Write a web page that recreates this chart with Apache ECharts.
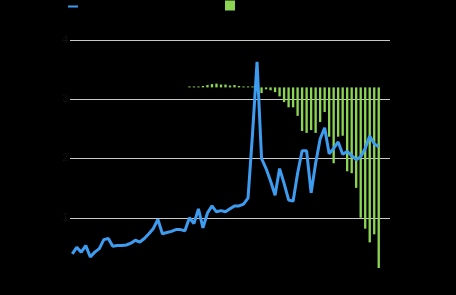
<!DOCTYPE html>
<html>
<head>
<meta charset="utf-8">
<script src="https://cdn.jsdelivr.net/npm/echarts@6/dist/echarts.min.js"></script>
<style>html,body{margin:0;padding:0;background:#000;}#c{width:456px;height:295px;}</style>
</head>
<body>
<div id="c"></div>
<script>
var categories = [];
for (var y = 1950; y <= 2020; y++) categories.push(String(y));

var lineName = 'Level';
var barName = 'Change';

var lineValues = [0.39,0.50,0.42,0.53,0.34,0.42,0.48,0.63,0.65,0.52,
  0.53,0.53,0.54,0.57,0.62,0.59,0.65,0.73,0.82,0.97,
  0.73,0.75,0.77,0.80,0.80,0.78,1.00,0.90,1.15,0.83,
  1.08,1.20,1.10,1.12,1.10,1.15,1.20,1.20,1.23,1.33,
  2.42,3.63,2.00,1.83,1.62,1.38,1.83,1.58,1.30,1.28,
  1.75,2.13,2.13,1.42,1.92,2.33,2.52,2.08,2.17,2.28,
  2.07,2.12,2.05,1.98,2.03,2.17,2.38,2.25,2.20,null,null];

var barValues = [null,null,null,null,null,null,null,null,null,null,
  null,null,null,null,null,null,null,null,null,null,
  null,null,null,null,null,null,0.1,0.1,0.1,0.15,
  0.25,0.35,0.4,0.3,0.3,0.2,0.25,0.15,0.1,0.1,
  0.1,-0.4,-0.6,-0.2,-0.3,-0.5,-0.95,-1.55,-2.1,-2.1,
  -3.0,-4.6,-4.8,-4.5,-4.8,-3.65,-2.6,-5.2,-8.0,-5.2,
  -5.1,-8.85,-9.05,-10.6,-13.75,-14.9,-16.35,-15.5,-19.05,null,null];

var leftTicks = {min: 0, max: 4, interval: 1};
var rightTicks = {min: -20, max: 5, interval: 5};

var chart = echarts.init(document.getElementById('c'), null, {renderer: 'canvas'});
chart.setOption({
  backgroundColor: '#000',
  animation: false,
  legend: [
    {left: 68, top: 1, itemWidth: 10, itemHeight: 2, itemGap: 5, padding: 0, icon: 'rect',
     data: [lineName], textStyle: {color: '#000', fontSize: 11}},
    {left: 225, top: 0, itemWidth: 10, itemHeight: 10, itemGap: 5, padding: 0, icon: 'rect',
     data: [barName], textStyle: {color: '#000', fontSize: 11}}
  ],
  grid: {left: 70, right: 66, top: 40, bottom: 15},
  xAxis: {
    type: 'category', data: categories, boundaryGap: true,
    axisLine: {show: true, lineStyle: {color: '#000', width: 2}},
    axisTick: {show: false},
    axisLabel: {color: '#000', fontSize: 10}
  },
  yAxis: [
    {type: 'value', min: leftTicks.min, max: leftTicks.max, interval: leftTicks.interval,
     axisLine: {show: false}, axisTick: {show: false},
     axisLabel: {color: '#111111', fontSize: 10, margin: 2, showMinLabel: false},
     splitLine: {show: true, lineStyle: {color: '#c8c8c8', width: 1}}},
    {type: 'value', min: rightTicks.min, max: rightTicks.max, interval: rightTicks.interval,
     axisLine: {show: false}, axisTick: {show: false},
     axisLabel: {color: '#000', fontSize: 10},
     splitLine: {show: false}}
  ],
  series: [
    {name: barName, type: 'bar', yAxisIndex: 1, data: barValues,
     barWidth: '52%', itemStyle: {color: '#8cd453'}},
    {name: lineName, type: 'line', yAxisIndex: 0, data: lineValues,
     symbol: 'none', showSymbol: false, z: 3,
     lineStyle: {color: '#3e9cf0', width: 3}, itemStyle: {color: '#3e9cf0'}}
  ]
});
</script>
</body>
</html>
